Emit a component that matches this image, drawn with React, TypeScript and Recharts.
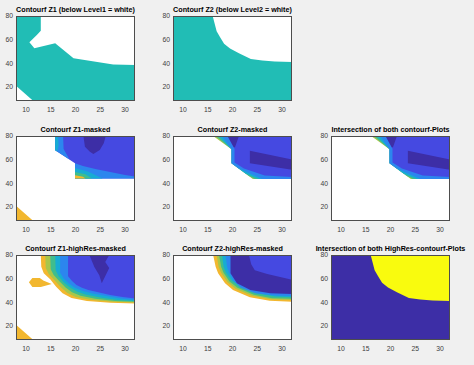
import React from 'react';
import { ComposedChart, Area, XAxis, YAxis } from 'recharts';

// ---- axis ticks ----
const X_TICKS = [10, 15, 20, 25, 30];
const Y_TICKS = [20, 40, 60, 80];
const X_DOMAIN: [number, number] = [8, 32];
const Y_DOMAIN: [number, number] = [8, 80];

// ---- colours (parula-like levels) ----
const TEAL = '#21bdb5';
const PURPLE = '#3d2ea6';
const BLUE = '#4549e1';
const LIGHT_BLUE = '#2c86ee';
const CYAN = '#17acd3';
const GREEN = '#3fbd8e';
const YELLOW_GREEN = '#a8c64a';
const ORANGE = '#f2b72f';
const YELLOW = '#f9fb0e';

// ---- region outlines, [x, y] vertices ----
const fullRect = [[8, 8], [8, 80], [32, 80], [32, 8]];
const lowerLeftCorner = [[8, 8], [8, 21], [11.5, 8]];

// Z1 above Level1
const z1Level = [[8, 21], [8, 80], [13, 80], [13, 67.6], [12.2, 64], [10.7, 57.8], [11.7, 52.7], [15.9, 56.9], [19.6, 44.2], [27.6, 38.9], [32, 38.6], [32, 8], [11.5, 8]];

// Z2 above Level2
const z2Level = [[8, 8], [8, 80], [16, 80], [16.8, 67], [17.5, 62], [18.3, 56.5], [19.5, 52.5], [21.3, 48.5], [23.7, 43.6], [26, 42.4], [28.5, 41.4], [32, 41.1], [32, 8]];
const z2Complement = [[16, 80], [16.8, 67], [17.5, 62], [18.3, 56.5], [19.5, 52.5], [21.3, 48.5], [23.7, 43.6], [26, 42.4], [28.5, 41.4], [32, 41.1], [32, 80]];

// Z1 masked (coarse)
const z1Mask = [[15.9, 80], [15.9, 68], [19.9, 57], [19.9, 44], [32, 44], [32, 80]];
const z1EdgeLightBlue = [[15.9, 80], [17.5, 80], [17.6, 69], [18.8, 60], [15.9, 68]];
const z1EdgeCyan = [[15.9, 80], [16.5, 80], [16.6, 72], [16.3, 66.9], [15.9, 68]];
const z1CornerLightBlue = [[19.9, 57], [21.5, 54.5], [24, 52], [27, 49.5], [30, 47], [32, 45.8], [32, 44], [19.9, 44]];
const z1CornerCyan = [[19.9, 53], [22.5, 50], [24.5, 46], [25.5, 44], [19.9, 44]];
const z1CornerGreen = [[19.9, 49.5], [22, 47.5], [23.3, 44], [19.9, 44]];
const z1CornerYellow = [[19.9, 46.8], [21.5, 45.5], [22, 44], [19.9, 44]];
const z1Trough = [[21.6, 80], [21.9, 71], [22.9, 66.7], [23.6, 64.7], [24.9, 68.1], [25.7, 73.8], [26.1, 80]];

// Z2 masked (coarse)
const z2Mask = [[16.1, 80], [19.8, 68.7], [19.8, 56.9], [24.1, 43.6], [32, 43.6], [32, 80]];
const z2Green = [[16.6, 80], [19.8, 68.7], [19.8, 56.9], [23.3, 46.1], [24.5, 43.6], [32, 43.6], [32, 80]];
const z2Cyan = [[17.2, 80], [19.8, 68.7], [19.8, 56.9], [22.6, 48.3], [25.3, 43.6], [32, 43.6], [32, 80]];
const z2LightBlue = [[17.9, 80], [19.8, 68.7], [19.8, 56.9], [21.2, 52.6], [26, 43.6], [32, 43.6], [32, 80]];
const z2Blue = [[19.0, 80], [20.4, 69.2], [20.4, 57.5], [22.3, 52.5], [26.5, 46.5], [32, 45.2], [32, 80]];
const z2Wedge = [[19.0, 80], [21.3, 80], [20.5, 70.5], [20.25, 70.5]];
const z2Trough = [[23.5, 67.5], [32, 60.2], [32, 51.5], [23.5, 57]];

// Z1 masked (high resolution)
const z1hOrange = [[13.0, 80], [13.1, 70], [13.6, 64.5], [14.9, 59.4], [16.1, 53.2], [17.4, 47.5], [19.2, 43.6], [22.3, 41.0], [27, 39.6], [32, 39.0], [32, 80]];
const z1hYellowGreen = [[13.9, 80], [14.0, 69], [14.6, 64], [15.8, 58.5], [17, 53], [18.3, 48], [20, 44.5], [23, 42], [27.5, 40.3], [32, 39.7], [32, 80]];
const z1hGreen = [[14.9, 80], [15.0, 68], [15.6, 63], [16.8, 57.5], [18, 52.5], [19.3, 48.5], [21, 45.5], [24, 43], [28, 41], [32, 40.4], [32, 80]];
const z1hCyan = [[15.9, 80], [16.0, 67], [16.6, 62], [17.6, 57], [18.9, 52.5], [20.3, 49], [22, 46.5], [25, 44], [28.5, 41.8], [32, 41.0], [32, 80]];
const z1hLightBlue = [[16.9, 80], [16.9, 65], [17.6, 60], [18.6, 56], [19.8, 52.5], [21.5, 49.5], [23.5, 47.3], [26.5, 45], [29.5, 43], [32, 41.8], [32, 80]];
const z1hBlue = [[18.5, 80], [18.5, 62], [19.3, 58], [20.2, 54.6], [21.3, 52.3], [22.6, 50.3], [25, 48], [27, 46.1], [29.5, 44.5], [32, 43.2], [32, 80]];
const z1hTrough = [[22.8, 80], [26.8, 80], [26.0, 74], [26.8, 69], [25.3, 56], [24.8, 62.8], [23.8, 69.8]];
const z1hIsland = [[10.6, 57], [11.3, 60.5], [12.8, 60.5], [13.5, 58.5], [15.2, 55.5], [13, 53], [11.3, 53]];

// Z2 masked (high resolution)
const z2hOrange = [[16.1, 80], [16.6, 70], [17.1, 64.5], [18.5, 56], [20.1, 50.3], [23.5, 44.2], [27.5, 41.3], [32, 40.4], [32, 80]];
const z2hYellowGreen = [[16.8, 80], [17.2, 70], [17.7, 65], [19.0, 57], [20.6, 51.5], [23.9, 45.5], [27.8, 42.6], [32, 41.9], [32, 80]];
const z2hGreen = [[17.3, 80], [17.7, 70], [18.2, 65], [19.4, 57.5], [21, 52.3], [24.3, 46.3], [28, 43.4], [32, 43.0], [32, 80]];
const z2hCyan = [[17.9, 80], [18.2, 70], [18.7, 65], [19.8, 58.5], [21.5, 53.5], [24.8, 47.5], [28.5, 44.8], [32, 44.2], [32, 80]];
const z2hLightBlue = [[18.6, 80], [18.9, 70], [19.3, 65], [20.2, 58.5], [21.6, 52.5], [24.6, 47.5], [28.8, 45.8], [32, 45.3], [32, 80]];
const z2hTrough = [[19.6, 80], [19.6, 64.5], [20.9, 56], [23.6, 50.3], [27.6, 47.5], [32, 46.9], [32, 80]];
const z2hBlue = [[23.3, 80], [23.8, 72], [24.5, 67], [27, 64], [32, 59], [32, 80]];

type Pt = { x: number; y: number };
type Layer = { pts: number[][]; fill: string };

// closes the outline so the Area path folds back onto its first vertex
const toPolygon = (pts: number[][]): Pt[] => {
  const p = pts.map(([x, y]) => ({ x, y }));
  return [...p, p[0]];
};

const z2MaskedLayers: Layer[] = [
  { pts: z2Mask, fill: YELLOW_GREEN },
  { pts: z2Green, fill: GREEN },
  { pts: z2Cyan, fill: CYAN },
  { pts: z2LightBlue, fill: LIGHT_BLUE },
  { pts: z2Blue, fill: BLUE },
  { pts: z2Wedge, fill: PURPLE },
  { pts: z2Trough, fill: PURPLE },
];

const PANELS: { title: string; col: number; row: number; layers: Layer[] }[] = [
  {
    title: 'Contourf Z1 (below Level1 = white)', col: 0, row: 0,
    layers: [{ pts: z1Level, fill: TEAL }],
  },
  {
    title: 'Contourf Z2 (below Level2 = white)', col: 1, row: 0,
    layers: [{ pts: z2Level, fill: TEAL }],
  },
  {
    title: 'Contourf Z1-masked', col: 0, row: 1,
    layers: [
      { pts: z1Mask, fill: BLUE },
      { pts: z1EdgeLightBlue, fill: LIGHT_BLUE },
      { pts: z1EdgeCyan, fill: CYAN },
      { pts: z1CornerLightBlue, fill: LIGHT_BLUE },
      { pts: z1CornerCyan, fill: CYAN },
      { pts: z1CornerGreen, fill: GREEN },
      { pts: z1CornerYellow, fill: ORANGE },
      { pts: z1Trough, fill: PURPLE },
      { pts: lowerLeftCorner, fill: ORANGE },
    ],
  },
  { title: 'Contourf Z2-masked', col: 1, row: 1, layers: z2MaskedLayers },
  { title: 'Intersection of both contourf-Plots', col: 2, row: 1, layers: z2MaskedLayers },
  {
    title: 'Contourf Z1-highRes-masked', col: 0, row: 2,
    layers: [
      { pts: z1hOrange, fill: ORANGE },
      { pts: z1hYellowGreen, fill: YELLOW_GREEN },
      { pts: z1hGreen, fill: GREEN },
      { pts: z1hCyan, fill: CYAN },
      { pts: z1hLightBlue, fill: LIGHT_BLUE },
      { pts: z1hBlue, fill: BLUE },
      { pts: z1hTrough, fill: PURPLE },
      { pts: z1hIsland, fill: ORANGE },
      { pts: lowerLeftCorner, fill: ORANGE },
    ],
  },
  {
    title: 'Contourf Z2-highRes-masked', col: 1, row: 2,
    layers: [
      { pts: z2hOrange, fill: ORANGE },
      { pts: z2hYellowGreen, fill: YELLOW_GREEN },
      { pts: z2hGreen, fill: GREEN },
      { pts: z2hCyan, fill: CYAN },
      { pts: z2hLightBlue, fill: LIGHT_BLUE },
      { pts: z2hTrough, fill: PURPLE },
      { pts: z2hBlue, fill: BLUE },
    ],
  },
  {
    title: 'Intersection of both HighRes-contourf-Plots', col: 2, row: 2,
    layers: [
      { pts: fullRect, fill: PURPLE },
      { pts: z2Complement, fill: YELLOW },
    ],
  },
];

// ---- layout ----
const COL_LEFT = [16, 173, 331];
const ROW_TOP = [16, 136, 255];
const PLOT_W = 119;
const PLOT_H = 85;
const Y_AXIS_W = 16;
const X_AXIS_H = 14;
const M_TOP = 6;
const M_RIGHT = 2;
const FRAME_COLOR = '#4d4d4d';
const FONT = '"Liberation Sans", Arial, Helvetica, sans-serif';

function Panel({ title, left, top, layers }: { title: string; left: number; top: number; layers: Layer[] }) {
  const tick = { fontSize: 6.8, fill: '#404040', fontFamily: FONT };
  return (
    <>
      {/* white axes background */}
      <div style={{ position: 'absolute', left, top, width: PLOT_W, height: PLOT_H, background: '#fff' }} />
      <div style={{ position: 'absolute', left: left - Y_AXIS_W, top: top - M_TOP }}>
        <ComposedChart
          width={Y_AXIS_W + PLOT_W + M_RIGHT}
          height={M_TOP + PLOT_H + X_AXIS_H}
          margin={{ top: M_TOP, right: M_RIGHT, bottom: 0, left: 0 }}
        >
          {layers.map((l, i) => (
            <Area
              key={i}
              data={toPolygon(l.pts)}
              dataKey="y"
              type="linear"
              stroke="none"
              fill={l.fill}
              fillOpacity={1}
              dot={false}
              activeDot={false}
              legendType="none"
              isAnimationActive={false}
            />
          ))}
          <XAxis
            type="number"
            dataKey="x"
            domain={X_DOMAIN}
            ticks={X_TICKS}
            allowDataOverflow
            interval={0}
            height={X_AXIS_H}
            tickLine={false}
            tickSize={4}
            tickMargin={2}
            tick={tick}
            axisLine={false}
          />
          <YAxis
            type="number"
            domain={Y_DOMAIN}
            ticks={Y_TICKS}
            allowDataOverflow
            interval={0}
            width={Y_AXIS_W}
            tickLine={false}
            tickSize={1}
            tickMargin={2}
            tick={tick}
            axisLine={false}
          />
        </ComposedChart>
      </div>
      {/* axes box */}
      <div
        style={{
          position: 'absolute',
          left,
          top,
          width: PLOT_W,
          height: PLOT_H,
          boxSizing: 'border-box',
          border: `1px solid ${FRAME_COLOR}`,
          pointerEvents: 'none',
        }}
      />
      <div
        style={{
          position: 'absolute',
          left: left - 30,
          width: PLOT_W + 60,
          top: top - 11.5,
          height: 9,
          lineHeight: '9px',
          textAlign: 'center',
          fontFamily: FONT,
          fontWeight: 'bold',
          fontSize: 7.2,
          color: '#000',
          whiteSpace: 'nowrap',
        }}
      >
        {title}
      </div>
    </>
  );
}

export default function App() {
  return (
    <div style={{ position: 'absolute', left: 0, top: 0, width: 474, height: 365, background: '#f0f0f0', overflow: 'hidden' }}>
      {PANELS.map((p) => (
        <Panel key={p.title} title={p.title} left={COL_LEFT[p.col]} top={ROW_TOP[p.row]} layers={p.layers} />
      ))}
    </div>
  );
}
